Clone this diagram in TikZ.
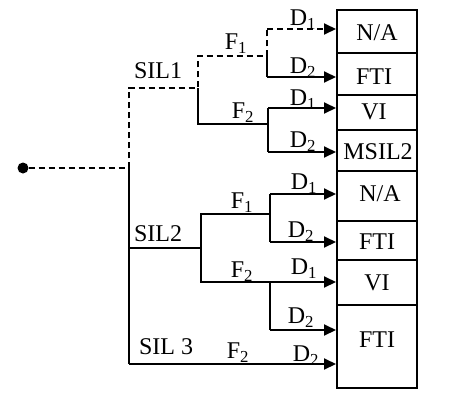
\documentclass[tikz,border=0pt]{standalone}
\usepackage{fontspec}
\setmainfont{Liberation Serif}
\usetikzlibrary{arrows.meta}
\begin{document}
\begin{tikzpicture}[x=1pt,y=-1pt,
  every node/.style={font=\fontsize{24}{28}\selectfont, inner sep=0pt},
  ln/.style={line width=2pt},
  dsh/.style={ln, dash pattern=on 6pt off 4pt},
  tip/.style={-{Triangle[length=12pt,width=11pt]}},
  arr/.style={ln, tip},
  cell/.style={draw, line width=2pt, minimum width=80pt, anchor=north west, inner sep=0pt}]
\useasboundingbox (0,0) rectangle (474,402);
% cells
\node[cell, minimum height=43pt] (c1) at (336,9) {};
\node[cell, minimum height=42pt] (c2) at (336,52) {};
\node[cell, minimum height=35pt] (c3) at (336,94) {};
\node[cell, minimum height=41pt] (c4) at (336,129) {};
\node[cell, minimum height=50pt] (c5) at (336,170) {};
\node[cell, minimum height=39pt] (c6) at (336,220) {};
\node[cell, minimum height=45pt] (c7) at (336,259) {};
\node[cell, minimum height=83pt] (c8) at (336,304) {};
% cell texts
\node (t1) at (377,33) {N/A};
\node (t2) at (374,77) {FTI};
\node (t3) at (374,112) {VI};
\node (t4) at (378,152) {MSIL2};
\node (t5) at (380,194) {N/A};
\node (t6) at (377,242) {FTI};
\node (t7) at (377,283) {VI};
\node (t8) at (377,340) {FTI};
% start dot
\node[circle, fill, minimum size=11pt] (dot) at (23,168) {};
% junctions
\coordinate (j0) at (129,168);
\coordinate (s1) at (129,88);
\coordinate (s1b) at (198,88);
\coordinate (f11) at (198,56);
\coordinate (f11e) at (267,56);
\coordinate (d11) at (267,29);
\coordinate (d12) at (267,77);
\coordinate (f12) at (198,124);
\coordinate (f12e) at (268,124);
\coordinate (d13) at (268,108);
\coordinate (d14) at (268,152);
\coordinate (s2) at (129,248);
\coordinate (s2b) at (201,248);
\coordinate (f21) at (201,214);
\coordinate (f21e) at (270,214);
\coordinate (d21) at (270,194);
\coordinate (d22) at (270,242);
\coordinate (f22) at (201,282);
\coordinate (f22e) at (270,282);
\coordinate (d24) at (270,330);
\coordinate (s3) at (129,364);
% dashed part
\draw[dsh] (dot) -- (j0) -- (s1) -- (s1b) -- (f11) -- (f11e) -- (d11);
\draw[dsh, tip] (d11) -- (d11 -| c1.west);
% SIL1 solid
\draw[ln] (f11e) -- (d12);
\draw[arr] (d12) -- (d12 -| c2.west);
\draw[ln] (s1b) -- (f12) -- (f12e);
\draw[ln] (d13) -- (d14);
\draw[arr] (d13) -- (d13 -| c3.west);
\draw[arr] (d14) -- (d14 -| c4.west);
% SIL2
\draw[ln] (j0) -- (s3);
\draw[ln] (s2) -- (s2b);
\draw[ln] (f21e) -- (f21) -- (f22) -- (f22e);
\draw[ln] (d21) -- (d22);
\draw[arr] (d21) -- (d21 -| c5.west);
\draw[arr] (d22) -- (d22 -| c6.west);
\draw[ln] (f22e) -- (d24);
\draw[arr] (f22e) -- (f22e -| c7.west);
\draw[arr] (d24) -- (d24 -| c8.west);
% SIL3
\draw[arr] (s3) -- (s3 -| c8.west);
% branch labels
\node (lsil1) at (158,71) {SIL1};
\node (lsil2) at (158,234) {SIL2};
\node (lsil3) at (166,347) {SIL 3};
\node (lf11) at (236,44) {F\textsubscript{1}};
\node (lf12) at (243,113) {F\textsubscript{2}};
\node (ld11) at (303,20) {D\textsubscript{1}};
\node (ld12) at (303,68) {D\textsubscript{2}};
\node (ld13) at (303,100) {D\textsubscript{1}};
\node (ld14) at (303,142) {D\textsubscript{2}};
\node (ld21) at (304,184) {D\textsubscript{1}};
\node (lf21) at (242,203) {F\textsubscript{1}};
\node (ld22) at (301,232) {D\textsubscript{2}};
\node (lf22) at (242,272) {F\textsubscript{2}};
\node (ld23) at (304,269) {D\textsubscript{1}};
\node (ld24) at (301,318) {D\textsubscript{2}};
\node (lf3) at (238,353) {F\textsubscript{2}};
\node (ld3) at (306,356) {D\textsubscript{2}};
\end{tikzpicture}
\end{document}
